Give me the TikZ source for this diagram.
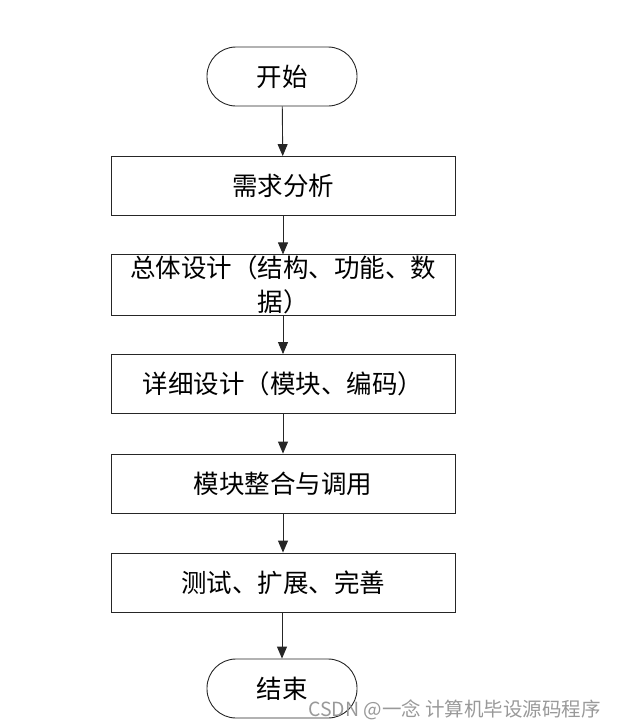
\documentclass[tikz,border=0pt]{standalone}
\usepackage{fontspec}
\usepackage{tikz}
\usetikzlibrary{positioning,shapes,arrows.meta,calc}
\newfontfamily\cjk{Noto Sans CJK SC}

\tikzset{
  flowline/.style={draw=black!85, line width=0.9pt},
  terminal/.style={flowline, rounded corners=29pt, minimum width=150pt, minimum height=59pt, font=\cjk\fontsize{25.5}{34}\selectfont},
  stepbox/.style={flowline, minimum width=344pt, minimum height=59pt, inner sep=1pt, align=center, font=\cjk\fontsize{25.5}{34}\selectfont},
  flowarrow/.style={flowline, -{Triangle[length=12pt,width=10pt]}}
}

\begin{document}
\begin{tikzpicture}[x=1pt,y=-1pt]
% Page frame
\useasboundingbox (0,0) rectangle (621,728);

% Start and end
\node[terminal] (start) at (282,76.5) {开始};
\node[terminal] (stop) at (282,688.5) {结束};

% Process steps
\node[stepbox] (req) at (283,186) {需求分析};
\node[stepbox] (overall) at (283,285) {总体设计（结构、功能、数\\据）};
\node[stepbox] (detail) at (283,384) {详细设计（模块、编码）};
\node[stepbox] (merge) at (283,483.5) {模块整合与调用};
\node[stepbox] (test) at (283,582.5) {测试、扩展、完善};

% Arrows
\draw[flowarrow] (start) -- (req);
\draw[flowarrow] (req) -- (overall);
\draw[flowarrow] (overall) -- (detail);
\draw[flowarrow] (detail) -- (merge);
\draw[flowarrow] (merge) -- (test);
\draw[flowarrow] (test.south -| stop.north) -- (stop);

% Watermark
\node[anchor=west, inner sep=0pt, text=black!40, font=\cjk\fontsize{19.5}{22}\selectfont] (mark) at (308,710) {CSDN @一念 计算机毕设源码程序};

\end{tikzpicture}
\end{document}
